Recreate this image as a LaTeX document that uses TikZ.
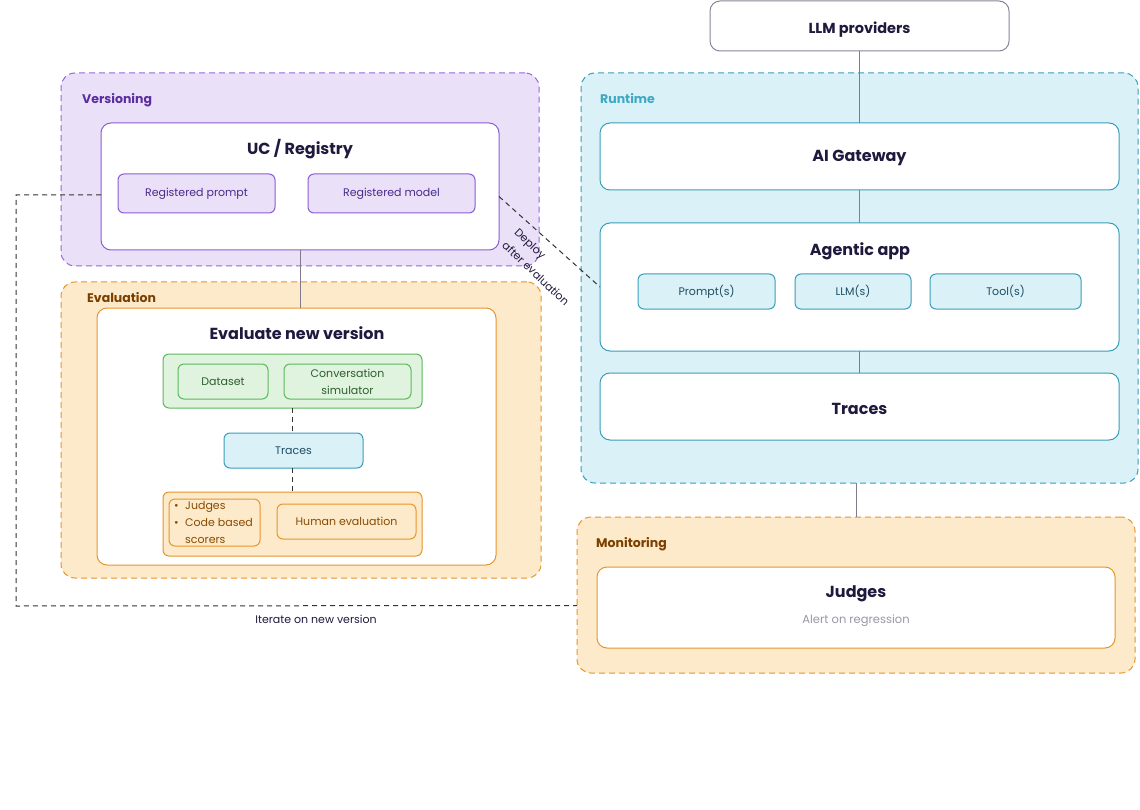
\documentclass[tikz,border=0pt]{standalone}
\usepackage{fontspec}
\setmainfont{Poppins}
\usetikzlibrary{calc}
\definecolor{navy}{HTML}{1F1A3D}
\definecolor{purfill}{HTML}{EAE0F8}
\definecolor{purdash}{HTML}{9966DD}
\definecolor{purline}{HTML}{8A5CD6}
\definecolor{purtext}{HTML}{4B2A8C}
\definecolor{purlabel}{HTML}{5B2D9E}
\definecolor{tealfill}{HTML}{D9F1F7}
\definecolor{tealline}{HTML}{3A9DBB}
\definecolor{teallabel}{HTML}{3FA8C3}
\definecolor{tealtext}{HTML}{1E4D63}
\definecolor{orfill}{HTML}{FCEACB}
\definecolor{orline}{HTML}{E8952B}
\definecolor{ortext}{HTML}{8A4A00}
\definecolor{orlabel}{HTML}{7B3F00}
\definecolor{grfill}{HTML}{E0F3DE}
\definecolor{grline}{HTML}{5CB85C}
\definecolor{grtext}{HTML}{2E5E2E}
\definecolor{connc}{HTML}{7F7A8C}
\definecolor{graytext}{HTML}{9A96A8}
\definecolor{provline}{HTML}{8A849A}
\begin{document}
\begin{tikzpicture}[x=1pt,y=-1pt,
  base/.style={anchor=north west,inner sep=0pt,outer sep=0pt,line width=1pt},
  cont/.style={base,draw,dash pattern=on 6pt off 4pt,rounded corners=14pt},
  inbox/.style={base,draw,fill=white,rounded corners=10pt},
  smbox/.style={base,draw,rounded corners=6pt,align=center,font=\fontsize{11}{17}\selectfont},
  lbl/.style={anchor=west,inner sep=0pt,yshift=-1pt,font=\fontsize{12.5}{15}\selectfont\bfseries},
  ttl/.style={inner sep=0pt,yshift=-2pt,text=navy,font=\fontsize{16}{19}\selectfont\bfseries},
  conn/.style={draw=connc,line width=1pt},
  dconn/.style={draw=black!80,line width=1pt,dash pattern=on 5pt off 4pt},
]
\useasboundingbox[fill=white] (0,0) rectangle (1140,810);

% ---------- Runtime ----------
\node[inbox,draw=provline,minimum width=299pt,minimum height=50pt] (llm) at (710,1) {};
\node[ttl,yshift=-1.5pt,font=\fontsize{14.5}{17}\selectfont\bfseries] (llmt) at (llm.center) {LLM providers};

\node[cont,draw=tealline,fill=tealfill,minimum width=557pt,minimum height=410pt] (runtime) at (581,73) {};
\node[lbl,text=teallabel] (runtimel) at (600,98) {Runtime};

\node[inbox,draw=tealline,minimum width=519pt,minimum height=67pt] (aig) at (600,123) {};
\node[ttl,yshift=1pt] (aigt) at (aig.center) {AI Gateway};

\node[inbox,draw=tealline,minimum width=519pt,minimum height=128pt] (agentic) at (600,223) {};
\node[ttl] (agentict) at (860,249) {Agentic app};
\node[smbox,draw=tealline,fill=tealfill,text=tealtext,minimum width=137pt,minimum height=35pt] (prompt) at (638,274) {Prompt(s)};
\node[smbox,draw=tealline,fill=tealfill,text=tealtext,minimum width=116pt,minimum height=35pt] (llms) at (795,274) {LLM(s)};
\node[smbox,draw=tealline,fill=tealfill,text=tealtext,minimum width=151pt,minimum height=35pt] (tools) at (930,274) {Tool(s)};

\node[inbox,draw=tealline,minimum width=519pt,minimum height=67pt] (traces) at (600,373) {};
\node[ttl] (tracest) at (traces.center) {Traces};

\draw[conn] (llm.south) -- (aig.north);
\draw[draw=tealline,line width=1pt] (aig.south) -- (agentic.north);
\draw[conn] (agentic.south) -- (traces.north);

% ---------- Monitoring ----------
\node[cont,draw=orline,fill=orfill,minimum width=558pt,minimum height=156pt] (monitor) at (577,517) {};
\node[lbl,text=orlabel] (monitorl) at (596,543) {Monitoring};
\node[inbox,draw=orline,minimum width=518pt,minimum height=81pt] (judges) at (597,567) {};
\node[ttl] (judgest) at (856,592) {Judges};
\node[inner sep=0pt,yshift=-1.5pt,text=graytext,font=\fontsize{11.5}{14}\selectfont] (alert) at (856,619) {Alert on regression};

\draw[conn] (monitor.north |- runtime.south) -- (monitor.north);

% ---------- Versioning ----------
\node[cont,draw=purdash,fill=purfill,minimum width=478pt,minimum height=193pt] (version) at (61,73) {};
\node[lbl,text=purlabel] (versionl) at (82,99) {Versioning};
\node[inbox,draw=purline,minimum width=398pt,minimum height=127pt] (uc) at (101,123) {};
\node[ttl,yshift=1pt] (uct) at (300,148) {UC / Registry};
\node[smbox,draw=purline,fill=purfill,text=purtext,minimum width=157pt,minimum height=39pt] (regprompt) at (118,174) {Registered prompt};
\node[smbox,draw=purline,fill=purfill,text=purtext,minimum width=167pt,minimum height=39pt] (regmodel) at (308,174) {Registered model};

% ---------- Evaluation ----------
\node[cont,draw=orline,fill=orfill,minimum width=480pt,minimum height=296pt] (evaluation) at (61,282) {};
\node[lbl,text=orlabel] (evaluationl) at (87,297) {Evaluation};
\node[inbox,draw=orline,minimum width=399pt,minimum height=257pt] (evalnew) at (97,308) {};
\node[ttl,yshift=1.5pt] (evalnewt) at (297,333) {Evaluate new version};

\node[base,draw=grline,fill=grfill,rounded corners=6pt,minimum width=259pt,minimum height=54pt] (green) at (163,354) {};
\node[smbox,draw=grline,fill=grfill,text=grtext,minimum width=90pt,minimum height=35pt] (dataset) at (178,364) {Dataset};
\node[smbox,draw=grline,fill=grfill,text=grtext,minimum width=127pt,minimum height=35pt] (convsim) at (284,364) {Conversation\\simulator};

\node[smbox,draw=tealline,fill=tealfill,text=tealtext,minimum width=139pt,minimum height=35pt] (tracessm) at (224,433) {Traces};

\node[base,draw=orline,fill=orfill,rounded corners=6pt,minimum width=259pt,minimum height=64pt] (orbox) at (163,492) {};
\node[smbox,draw=orline,fill=orfill,minimum width=91pt,minimum height=47pt] (judgelist) at (169,499) {};
\node[anchor=north west,inner sep=0pt,text=ortext,align=left,font=\fontsize{11}{17}\selectfont] (judgelistt) at (172,501.5)
  {\makebox[13pt][l]{\,•}Judges\\\makebox[13pt][l]{\,•}Code based\\\makebox[13pt][l]{}scorers};
\node[smbox,draw=orline,fill=orfill,text=ortext,minimum width=139pt,minimum height=35pt] (human) at (277,504) {Human evaluation};

\draw[dconn] (green.south) -- (tracessm.north -| green.south);
\draw[dconn] (tracessm.south -| green.south) -- (orbox.north);

\draw[conn] (uc.south) -- (uc.south |- evalnew.north);

% ---------- Dashed flows ----------
\draw[dconn] ([yshift=-10pt]uc.east) -- (agentic.west);
\node[inner sep=0pt,align=left,rotate=-43.5,text=navy,font=\fontsize{11}{18}\selectfont] (deployl) at (542,267) {Deploy\\after evaluation};

\coordinate (itlt) at (16,195);
\coordinate (itlb) at (16,606);
\draw[dconn] ([yshift=-8.5pt]uc.west) -- (itlt) -- (itlb) -- ([yshift=-10.5pt]monitor.west);
\node[inner sep=0pt,text=navy,font=\fontsize{11}{14}\selectfont] (iterl) at (316,619) {Iterate on new version};
\end{tikzpicture}
\end{document}
